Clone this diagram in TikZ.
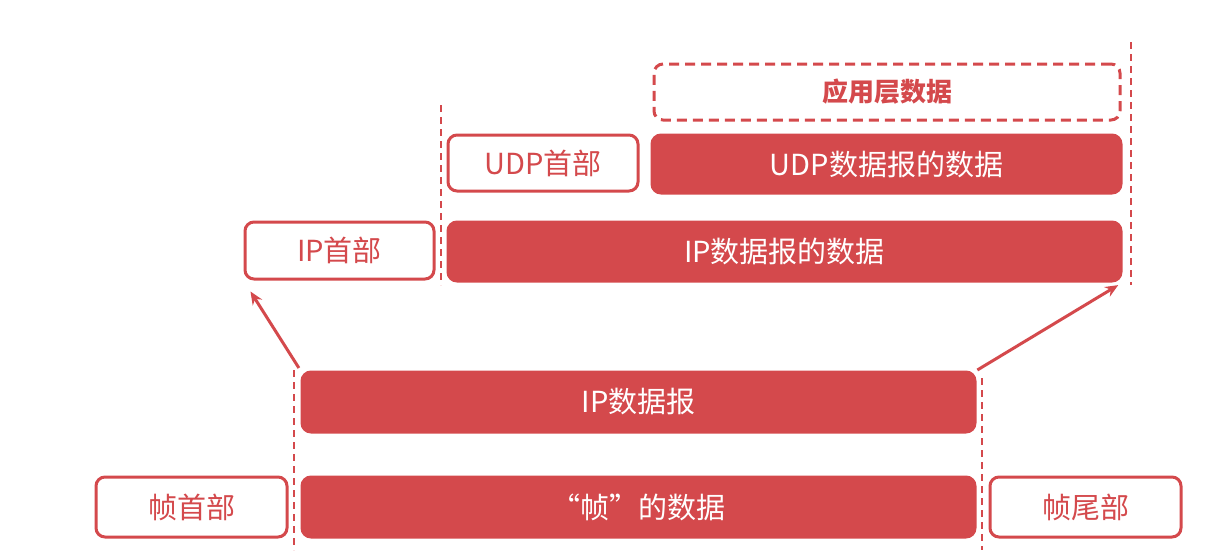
\documentclass[tikz,border=0pt]{standalone}
\usepackage{fontspec}
\setmainfont{Noto Sans CJK SC}
\newfontfamily\cjk{Noto Sans CJK SC}
\usetikzlibrary{arrows.meta}
\definecolor{myred}{HTML}{D4494C}
\tikzset{
  base/.style={rounded corners=9pt, line width=3pt, draw=myred, inner sep=0pt, font=\cjk\fontsize{29}{31}\selectfont},
  hollow/.style={base, fill=white, text=myred},
  solid/.style={base, fill=myred, text=white},
  ghost/.style={base, dash pattern=on 10pt off 6pt, text=myred, font=\cjk\bfseries\fontsize{26}{28}\selectfont},
  guide/.style={myred, line width=2pt, dash pattern=on 7pt off 5pt},
  arr/.style={myred, line width=3pt, -{Stealth[length=13pt,width=11pt]}}
}
\begin{document}
\begin{tikzpicture}[x=1pt,y=-1pt]
\useasboundingbox (0,0) rectangle (1229,555);
\node[ghost, minimum width=466pt, minimum height=56pt] (app) at (887,92) {应用层数据};
\node[hollow, minimum width=190pt, minimum height=56pt] (udph) at (543,163) {UDP首部};
\node[solid, minimum width=469pt, minimum height=58pt] (udpd) at (886.5,164) {UDP数据报的数据};
\node[hollow, minimum width=189pt, minimum height=57pt] (iph) at (339.5,250.5) {IP首部};
\node[solid, minimum width=673pt, minimum height=59pt] (ipd) at (784.5,251.5) {IP数据报的数据};
\node[solid, minimum width=673pt, minimum height=60pt] (ipdg) at (638.5,402) {IP数据报};
\node[hollow, minimum width=191pt, minimum height=60pt] (fh) at (191.5,507) {帧首部};
\node[solid, minimum width=673pt, minimum height=60pt] (fd) at (638.5,507) {“帧”的数据};
\node[hollow, minimum width=191pt, minimum height=60pt] (ft) at (1085.5,507) {帧尾部};
\draw[guide] (441,105) -- (441,285);
\draw[guide] (1131,42) -- (1131,285);
\draw[guide] (294,370) -- (294,550);
\draw[guide] (982,378) -- (982,550);
\draw[arr, shorten <=3pt, shorten >=13pt] (ipdg.north west) -- (iph.south west);
\draw[arr, shorten <=1pt, shorten >=5pt] (ipdg.north east) -- (ipd.south east);
\end{tikzpicture}
\end{document}
